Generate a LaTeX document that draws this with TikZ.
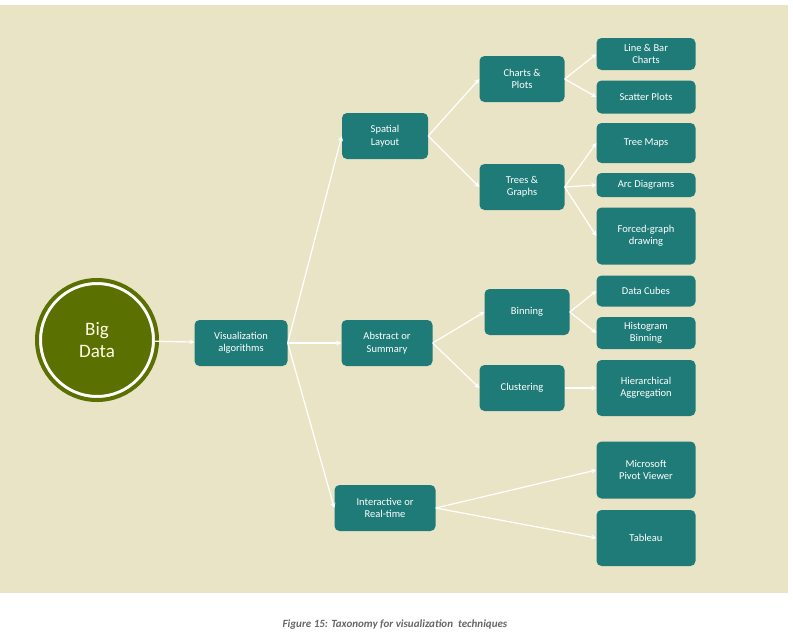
\documentclass[tikz,border=0pt]{standalone}
\usepackage{fontspec}
\setmainfont{Carlito}
\usetikzlibrary{arrows.meta}
\definecolor{bgbeige}{HTML}{EAE4C6}
\definecolor{boxteal}{HTML}{1E7B78}
\definecolor{bigolive}{HTML}{5A7000}
\begin{document}
\begin{tikzpicture}[x=1pt, y=-1pt]
    \tikzstyle{box}=[rectangle, rounded corners=5pt, fill=boxteal, text=white, align=center, inner sep=0pt, font=\fontsize{10.5}{12.5}\selectfont]
    \tikzstyle{edge}=[->, white, line width=1.2pt, >={Stealth[length=5pt, width=5pt]}]

    \useasboundingbox (0,0) rectangle (793,643);
    \fill[bgbeige] (0,5) rectangle (788,593);

    \node[circle, fill=bigolive, draw=white, line width=2pt, double=bigolive, double distance=0pt, minimum size=114pt, text=white!90!yellow, font=\fontsize{19}{22}\selectfont, align=center] (BD) at (97,340) {Big\\Data};
    \draw[bigolive, line width=4pt] (BD.center) circle (60);

    \node[box, minimum width=93pt, minimum height=46pt] (VA) at (241,343) {Visualization\\algorithms};
    \node[box, minimum width=86pt, minimum height=46pt] (SL) at (385,136) {Spatial\\Layout};
    \node[box, minimum width=91pt, minimum height=46pt] (AS) at (387,343) {Abstract or\\Summary};
    \node[box, minimum width=101pt, minimum height=46pt] (IR) at (385,508) {Interactive or\\Real-time};

    \node[box, minimum width=85pt, minimum height=46pt] (CP) at (522,79) {Charts \&\\Plots};
    \node[box, minimum width=85pt, minimum height=46pt] (TG) at (522,187) {Trees \&\\Graphs};
    \node[box, minimum width=85pt, minimum height=46pt] (BI) at (527,312) {Binning};
    \node[box, minimum width=85pt, minimum height=46pt] (CL) at (522,388) {Clustering};

    \node[box, minimum width=99pt, minimum height=32pt] (LB) at (646,54) {Line \& Bar\\Charts};
    \node[box, minimum width=99pt, minimum height=33pt] (SP) at (646,97) {Scatter Plots};
    \node[box, minimum width=99pt, minimum height=40pt] (TM) at (646,143) {Tree Maps};
    \node[box, minimum width=99pt, minimum height=24pt] (AD) at (646,185) {Arc Diagrams};
    \node[box, minimum width=99pt, minimum height=57pt] (FG) at (646,236) {Forced-graph\\drawing};
    \node[box, minimum width=99pt, minimum height=31pt] (DC) at (646,291) {Data Cubes};
    \node[box, minimum width=99pt, minimum height=32pt] (HB) at (646,333) {Histogram\\Binning};
    \node[box, minimum width=99pt, minimum height=56pt] (HA) at (646,388) {Hierarchical\\Aggregation};
    \node[box, minimum width=99pt, minimum height=57pt] (MP) at (646,470) {Microsoft\\Pivot Viewer};
    \node[box, minimum width=99pt, minimum height=56pt] (TB) at (646,538) {Tableau};

    \draw[edge] (BD) -- (VA);
    \foreach \j in {SL, AS, IR}
        \draw[edge] (VA.east) -- (\j.west);
    \foreach \j in {CP, TG}
        \draw[edge] (SL.east) -- (\j.west);
    \foreach \j in {BI, CL}
        \draw[edge] (AS.east) -- (\j.west);
    \foreach \j in {LB, SP}
        \draw[edge] (CP.east) -- (\j.west);
    \foreach \j in {TM, AD, FG}
        \draw[edge] (TG.east) -- (\j.west);
    \foreach \j in {DC, HB}
        \draw[edge] (BI.east) -- (\j.west);
    \draw[edge] (CL) -- (HA);
    \foreach \j in {MP, TB}
        \draw[edge] (IR.east) -- (\j.west);

    \node[text=gray!80!black, font=\bfseries\itshape\fontsize{11}{13}\selectfont] (CAP) at (395,625) {Figure 15: Taxonomy for visualization\ \ techniques};
\end{tikzpicture}
\end{document}
